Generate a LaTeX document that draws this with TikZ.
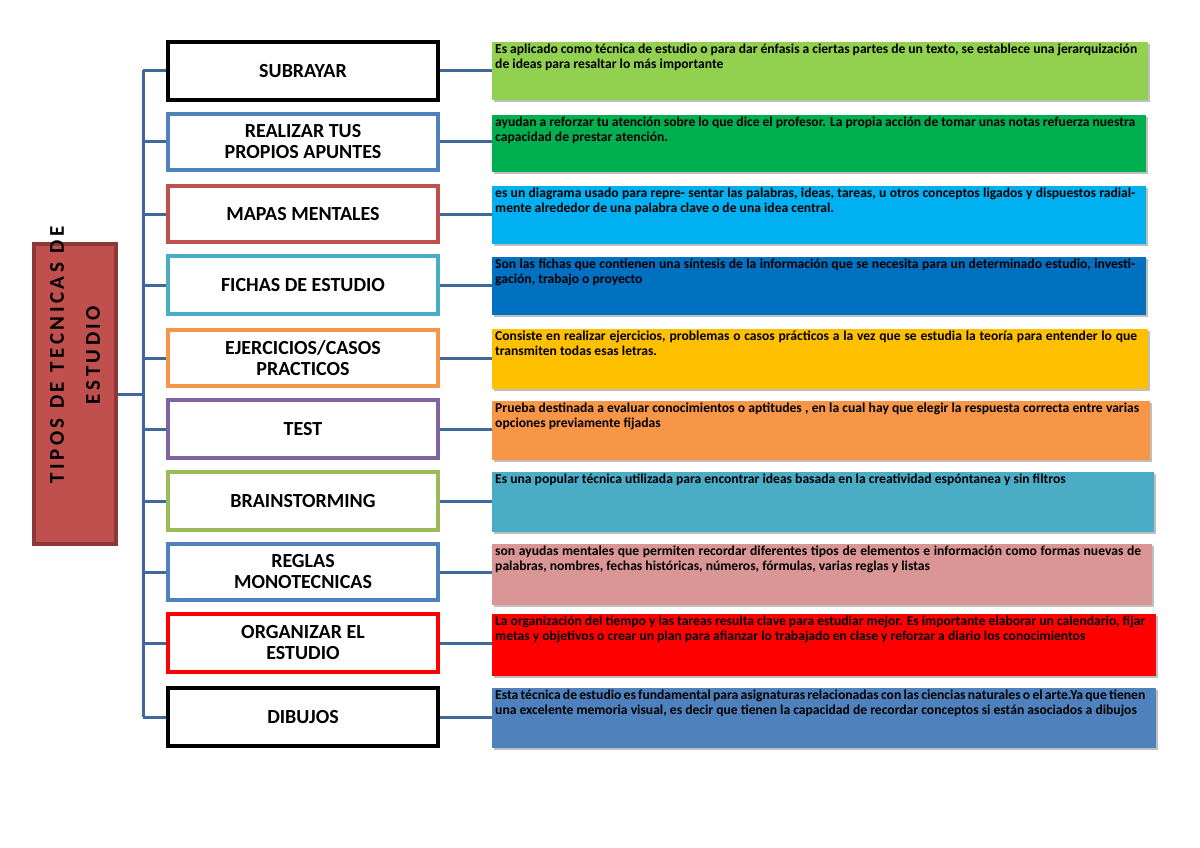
\documentclass[tikz,border=0pt]{standalone}
\usepackage{fontspec}
\setmainfont{Carlito}
\definecolor{conn}{HTML}{41689A}
\definecolor{rootred}{HTML}{C0504D}
\definecolor{rootedge}{HTML}{8C3836}
\begin{document}
\begin{tikzpicture}[x=1pt,y=-1pt,
  mid/.style={draw,line width=3.5pt,fill=white,font=\bfseries\fontsize{20}{21}\selectfont,align=center,inner sep=0pt},
  desc/.style={inner xsep=3pt,inner ysep=2pt,font=\bfseries\fontsize{13.6}{14.5}\selectfont,align=justify,anchor=north west,text width=#1},
  link/.style={draw=conn,line width=3pt}]
\useasboundingbox (0,0) rectangle (1200,848);
% root
\node[draw=rootedge,line width=4pt,fill=rootred,minimum width=82pt,minimum height=300pt] (root) at (74.5,394) {};
\node[rotate=90,align=center,font=\fontsize{21}{36}\selectfont\bfseries] (rt) at (75,355) {T\,I\,P\,O\,S\ \ D\,E\ \ T\,E\,C\,N\,I\,C\,A\,S\ \ D\,E\\E\,S\,T\,U\,D\,I\,O};
\coordinate (top) at (143,70);
\coordinate (bot) at (143,717);
\coordinate (jr) at (143,394);
\draw[link] (top) -- (bot);
\draw[link] (root.east) -- (jr);
\foreach \i/\y/\h/\bc/\fc/\ry/\rh/\rw/\lab/\txt in {
 1/71/58/000000/92D050/42/58/656/{SUBRAYAR}/{Es aplicado como técnica de estudio o para dar énfasis a ciertas partes de un texto, se establece una jerarquización de ideas para resaltar lo más importante},
 2/142/56/4F81BD/00B050/115/57/654/{REALIZAR TUS\\PROPIOS APUNTES}/{ayudan a reforzar tu atención sobre lo que dice el profesor. La propia acción de tomar unas notas refuerza nuestra capacidad de prestar atención.},
 3/214/56/C0504D/00B0F0/186/58/654/{MAPAS MENTALES}/{es un diagrama usado para repre- sentar las palabras, ideas, tareas, u otros conceptos ligados y dispuestos radialmente alrededor de una palabra clave o de una idea central.},
 4/285/58/4BACC6/0070C0/257/58/654/{FICHAS DE ESTUDIO}/{Son las fichas que contienen una síntesis de la información que se necesita para un determinado estudio, investigación, trabajo o proyecto},
 5/358/56/F79646/FFC000/329/60/656/{EJERCICIOS/CASOS\\PRACTICOS}/{Consiste en realizar ejercicios, problemas o casos prácticos a la vez que se estudia la teoría para entender lo que transmiten todas esas letras.},
 6/429/58/8064A2/F79646/401/59/658/{TEST}/{Prueba destinada a evaluar conocimientos o aptitudes , en la cual hay que elegir la respuesta correcta entre varias opciones previamente fijadas},
 7/501/58/9BBB59/4BACC6/472/60/662/{BRAINSTORMING}/{Es una popular técnica utilizada para encontrar ideas basada en la creatividad espóntanea y sin filtros},
 8/572/56/4F81BD/DA9694/544/61/660/{REGLAS\\MONOTECNICAS}/{son ayudas mentales que permiten recordar diferentes tipos de elementos e información como formas nuevas de palabras, nombres, fechas históricas, números, fórmulas, varias reglas y listas},
 9/643/58/FF0000/FF0000/614/62/664/{ORGANIZAR EL\\ESTUDIO}/{La organización del tiempo y las tareas resulta clave para estudiar mejor. Es importante elaborar un calendario, fijar metas y objetivos o crear un plan para afianzar lo trabajado en clase y reforzar a diario los conocimientos},
 10/717/58/000000/4F81BD/688/60/664/{DIBUJOS}/{Esta técnica de estudio es fundamental para asignaturas relacionadas con las ciencias naturales o el arte.Ya que tienen una excelente memoria visual, es decir que tienen la capacidad de recordar conceptos si están asociados a dibujos}}
{
 \definecolor{bc}{HTML}{\bc}\definecolor{fc}{HTML}{\fc}
 \node[mid,draw=bc,minimum width=270pt,minimum height=\h pt] (m\i) at (303,\y) {\lab};
 \fill[black!25] (494,\ry+2) rectangle (492+\rw+2,\ry+\rh+2);
 \fill[fc] (492,\ry) rectangle (492+\rw,\ry+\rh);
 \node[desc=\rw pt-14pt] (r\i) at (492,\ry) {\txt};
 \coordinate (ra\i) at (492,\y);
 \coordinate (la\i) at (143,\y);
 \draw[link] (la\i) -- (m\i.west);
 \draw[link] (m\i.east) -- (ra\i);
}
\end{tikzpicture}
\end{document}
